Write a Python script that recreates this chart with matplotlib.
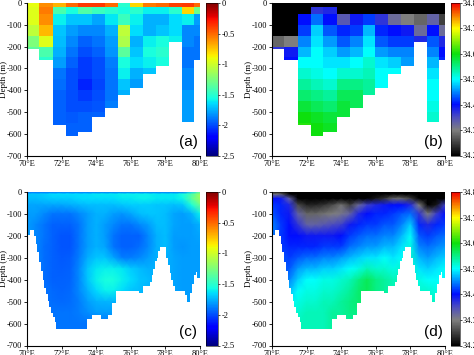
import numpy as np
import matplotlib
matplotlib.use('Agg')
import matplotlib.pyplot as plt
from matplotlib.colors import LinearSegmentedColormap, Normalize
from matplotlib.cm import ScalarMappable

plt.rcParams['axes.unicode_minus'] = False
SERIF = 'Liberation Serif'
SANS = 'Liberation Sans'

# ---------------- (a)/(b): station sections ----------------
stn_edges = [70.0, 70.72, 71.5, 72.23, 72.97, 73.73, 74.5, 75.27, 75.98, 76.7, 77.47, 78.22, 78.95, 79.67, 80.0]
stn_bottom = [210, 260, 560, 610, 590, 525, 480, 420, 390, 325, 290, 178, 545, 260]
layer_edges = [0, 20, 50, 100, 150, 200, 250, 300, 350, 400, 450, 500, 550, 600, 650]

temp_a = [
    [-0.92, -0.95, -0.95, -1.05, -1.25, -1.35],
    [-0.6, -0.55, -0.6, -0.72, -0.95, -1.4, -1.5],
    [-0.7, -1.4, -1.6, -1.7, -1.72, -1.75, -1.8, -1.9, -1.92, -1.95, -1.95, -1.95, -1.95],
    [-0.5, -1.55, -1.7, -1.8, -1.85, -1.9, -1.95, -2.0, -2.0, -2.0, -2.0, -1.97, -1.95, -1.95],
    [-0.38, -1.38, -1.7, -1.85, -1.95, -2.0, -2.05, -2.05, -2.1, -2.05, -2.0, -1.95, -1.95],
    [-0.38, -1.45, -1.78, -1.85, -1.9, -1.95, -2.0, -2.0, -2.02, -2.0, -1.98, -1.95],
    [-0.5, -1.5, -1.62, -1.75, -1.8, -1.82, -1.88, -1.9, -1.9, -1.9, -1.88],
    [-1.5, -1.55, -1.45, -1.05, -1.1, -1.35, -1.55, -1.6, -1.7, -1.75],
    [-0.8, -1.5, -1.6, -1.65, -1.75, -1.7, -1.65, -1.75, -1.8],
    [-0.55, -1.6, -1.75, -1.75, -1.6, -1.55, -1.6, -1.7],
    [-0.5, -1.6, -1.75, -1.7, -1.55, -1.5, -1.55],
    [-0.4, -1.5, -1.65, -1.65, -1.6],
    [-0.38, -0.8, -1.6, -1.85, -1.85, -1.9, -1.9, -1.85, -1.85, -1.8, -1.8, -1.8],
    [-0.5, -1.3, -1.8, -1.85, -1.9, -1.9, -1.9],
]

sal_b = [
    [34.15, 34.15, 34.15, 34.2, 34.28, 34.37],
    [34.15, 34.15, 34.15, 34.17, 34.3, 34.39, 34.4],
    [34.15, 34.15, 34.4, 34.42, 34.45, 34.47, 34.5, 34.52, 34.54, 34.56, 34.58, 34.6, 34.61],
    [34.15, 34.37, 34.44, 34.48, 34.49, 34.5, 34.5, 34.51, 34.53, 34.55, 34.57, 34.59, 34.6, 34.6],
    [34.15, 34.38, 34.4, 34.43, 34.46, 34.48, 34.49, 34.5, 34.52, 34.54, 34.56, 34.58, 34.59],
    [34.15, 34.15, 34.34, 34.41, 34.43, 34.46, 34.49, 34.52, 34.55, 34.57, 34.58, 34.58],
    [34.15, 34.2, 34.39, 34.42, 34.45, 34.47, 34.5, 34.52, 34.55, 34.57, 34.57],
    [34.15, 34.18, 34.42, 34.47, 34.49, 34.5, 34.52, 34.53, 34.54, 34.54],
    [34.15, 34.15, 34.37, 34.41, 34.43, 34.46, 34.49, 34.5, 34.5],
    [34.15, 34.15, 34.32, 34.4, 34.42, 34.45, 34.48, 34.5],
    [34.15, 34.15, 34.3, 34.39, 34.42, 34.45, 34.46],
    [34.15, 34.15, 34.28, 34.32, 34.38],
    [34.15, 34.15, 34.33, 34.4, 34.43, 34.45, 34.47, 34.49, 34.5, 34.5, 34.51, 34.52],
    [34.15, 34.15, 34.25, 34.32, 34.38, 34.4, 34.41],
]

# ---------------- (c)/(d): gridded sections ----------------
grid_lon = [70.0, 70.5, 71.0, 71.5, 72.0, 72.5, 73.0, 73.5, 74.0, 74.5, 75.0,
            75.5, 76.0, 76.5, 77.0, 77.5, 78.0, 78.5, 79.0, 79.5, 80.0]
grid_depth = [0, 10, 30, 60, 100, 150, 200, 250, 300, 350, 400, 450, 500, 550, 600, 700]

temp_c = [
    [-1.95]*19 + [-1.7, -1.4],
    [-1.7, -1.7, -1.68, -1.65, -1.65, -1.65, -1.65, -1.65, -1.62, -1.62, -1.62, -1.6, -1.6, -1.6, -1.6, -1.62, -1.62, -1.62, -1.55, -1.4, -1.15],
    [-1.72, -1.72, -1.7, -1.68, -1.68, -1.68, -1.66, -1.65, -1.65, -1.65, -1.65, -1.62, -1.62, -1.6, -1.6, -1.62, -1.62, -1.62, -1.58, -1.35, -1.15],
    [-1.78, -1.78, -1.78, -1.78, -1.78, -1.76, -1.74, -1.72, -1.72, -1.72, -1.72, -1.7, -1.68, -1.68, -1.68, -1.7, -1.7, -1.72, -1.7, -1.55, -1.3],
    [-1.8, -1.8, -1.85, -1.9, -1.9, -1.9, -1.85, -1.8, -1.75, -1.75, -1.8, -1.82, -1.78, -1.72, -1.7, -1.7, -1.72, -1.78, -1.8, -1.75, -1.6],
    [-1.8, -1.85, -1.9, -1.95, -1.95, -1.95, -1.9, -1.8, -1.75, -1.8, -1.85, -1.9, -1.9, -1.85, -1.8, -1.72, -1.72, -1.78, -1.8, -1.8, -1.75],
    [-1.8, -1.85, -1.9, -1.95, -1.98, -1.98, -1.9, -1.8, -1.75, -1.8, -1.9, -1.95, -1.95, -1.95, -1.85, -1.75, -1.72, -1.8, -1.8, -1.8, -1.78],
    [-1.8, -1.85, -1.92, -1.95, -1.98, -1.98, -1.9, -1.8, -1.75, -1.78, -1.9, -1.95, -1.95, -1.92, -1.85, -1.75, -1.72, -1.8, -1.82, -1.8, -1.8],
    [-1.8, -1.85, -1.92, -1.95, -1.97, -1.96, -1.88, -1.76, -1.7, -1.7, -1.78, -1.88, -1.88, -1.85, -1.8, -1.75, -1.75, -1.78, -1.8, -1.8, -1.8],
    [-1.8, -1.85, -1.92, -1.95, -1.96, -1.95, -1.85, -1.7, -1.62, -1.6, -1.6, -1.62, -1.68, -1.72, -1.75, -1.75, -1.75, -1.78, -1.8, -1.8, -1.8],
    [-1.8, -1.85, -1.92, -1.95, -1.95, -1.94, -1.85, -1.7, -1.6, -1.55, -1.55, -1.6, -1.65, -1.7, -1.72, -1.75, -1.75, -1.78, -1.8, -1.8, -1.8],
    [-1.8, -1.85, -1.9, -1.93, -1.94, -1.93, -1.85, -1.75, -1.66, -1.6, -1.6, -1.65, -1.7, -1.72, -1.75, -1.75, -1.75, -1.78, -1.8, -1.8, -1.8],
    [-1.85, -1.88, -1.9, -1.92, -1.93, -1.92, -1.88, -1.8, -1.75, -1.74, -1.74, -1.75, -1.75, -1.75, -1.75, -1.75, -1.75, -1.78, -1.8, -1.8, -1.8],
    [-1.88, -1.9, -1.9, -1.9, -1.9, -1.9, -1.88, -1.84, -1.8, -1.8, -1.8, -1.8, -1.8, -1.8, -1.8, -1.8, -1.8, -1.8, -1.8, -1.8, -1.8],
    [-1.9]*21,
    [-1.9]*21,
]

sal_d = [
    [34.15]*21,
    [34.3, 34.28, 34.2] + [34.15]*17 + [34.18],
    [34.4, 34.39, 34.33, 34.18, 34.17, 34.17, 34.17, 34.18, 34.2, 34.18, 34.2, 34.2, 34.22, 34.24, 34.28, 34.28, 34.25, 34.2, 34.17, 34.17, 34.2],
    [34.42, 34.41, 34.38, 34.26, 34.23, 34.23, 34.24, 34.26, 34.29, 34.25, 34.32, 34.36, 34.38, 34.39, 34.4, 34.4, 34.38, 34.3, 34.2, 34.22, 34.36],
    [34.43, 34.41, 34.39, 34.33, 34.28, 34.28, 34.29, 34.3, 34.31, 34.33, 34.38, 34.4, 34.41, 34.41, 34.42, 34.43, 34.44, 34.37, 34.3, 34.36, 34.4],
    [34.45, 34.42, 34.4, 34.37, 34.33, 34.33, 34.34, 34.35, 34.36, 34.39, 34.41, 34.42, 34.42, 34.43, 34.43, 34.45, 34.48, 34.41, 34.38, 34.41, 34.42],
    [34.45, 34.42, 34.4, 34.4, 34.39, 34.39, 34.39, 34.39, 34.4, 34.42, 34.43, 34.44, 34.44, 34.45, 34.45, 34.47, 34.5, 34.43, 34.42, 34.43, 34.44],
    [34.45, 34.42, 34.41, 34.41, 34.41, 34.41, 34.42, 34.42, 34.42, 34.44, 34.45, 34.46, 34.46, 34.47, 34.47, 34.49, 34.51, 34.45, 34.44, 34.45, 34.46],
    [34.45, 34.43, 34.42, 34.43, 34.44, 34.44, 34.45, 34.45, 34.46, 34.47, 34.48, 34.49, 34.49, 34.5, 34.49, 34.5, 34.52, 34.47, 34.46, 34.47, 34.48],
    [34.45, 34.43, 34.43, 34.46, 34.47, 34.47, 34.48, 34.48, 34.49, 34.5, 34.51, 34.53, 34.52, 34.52, 34.51, 34.52, 34.52, 34.49, 34.48, 34.49, 34.5],
    [34.45, 34.44, 34.45, 34.48, 34.5, 34.5, 34.51, 34.51, 34.52, 34.53, 34.55, 34.57, 34.55, 34.54, 34.53, 34.53, 34.53, 34.51, 34.5, 34.5, 34.5],
    [34.45, 34.45, 34.47, 34.5, 34.51, 34.51, 34.52, 34.52, 34.53, 34.54, 34.56, 34.57, 34.55, 34.54, 34.53, 34.53, 34.53, 34.52, 34.52, 34.51, 34.5],
    [34.46, 34.47, 34.5, 34.51, 34.52, 34.52, 34.53, 34.53, 34.54, 34.55, 34.56, 34.56, 34.55, 34.54, 34.53, 34.53, 34.53, 34.53, 34.53, 34.52, 34.51],
    [34.48, 34.5, 34.51, 34.52, 34.53, 34.53, 34.53, 34.54, 34.54, 34.55, 34.55, 34.55, 34.55, 34.54, 34.53, 34.53, 34.53, 34.53, 34.53, 34.52, 34.52],
    [34.5, 34.51, 34.52, 34.53, 34.53, 34.53, 34.53, 34.54, 34.54, 34.54, 34.54, 34.54, 34.54, 34.54, 34.53, 34.53, 34.53, 34.53, 34.53, 34.52, 34.52],
    [34.5, 34.51, 34.52, 34.53, 34.53, 34.53, 34.53, 34.54, 34.54, 34.54, 34.54, 34.54, 34.54, 34.54, 34.53, 34.53, 34.53, 34.53, 34.53, 34.52, 34.52],
]

# sea floor (step function: segment start longitude, depth)
floor_lon = [70.0, 70.2, 70.4, 70.5, 70.6, 70.7, 70.8, 70.9, 71.0, 71.1, 71.2, 71.3, 71.4, 71.5, 71.6, 71.7,
             73.45, 73.75, 74.3, 74.7, 74.9, 75.15, 76.5, 76.7, 77.1, 77.2, 77.3, 77.4, 77.5, 77.6, 77.7,
             78.05, 78.15, 78.25, 78.35, 78.45, 78.55, 79.15, 79.25, 79.45, 79.55, 79.65, 79.75, 79.85]
floor_depth = [195, 175, 200, 235, 275, 320, 360, 400, 440, 465, 495, 525, 550, 570, 595, 625,
               580, 560, 580, 560, 505, 450, 460, 430, 410, 380, 350, 315, 300, 270, 250,
               300, 335, 370, 400, 430, 450, 470, 500, 460, 420, 380, 365, 390]

xticks = [70, 72, 74, 76, 78, 80]
xticklabels = ['70°E', '72°E', '74°E', '76°E', '78°E', '80°E']
yticks = [0, -100, -200, -300, -400, -500, -600, -700]
temp_ticks = [0, -0.5, -1, -1.5, -2, -2.5]
temp_ticklabels = ['0', '-0.5', '-1', '-1.5', '-2', '-2.5']
sal_ticks = [34.8, 34.7, 34.6, 34.5, 34.4, 34.3, 34.2]
sal_ticklabels = ['34.8', '34.7', '34.6', '34.5', '34.4', '34.3', '34.2']

# ---------------- styling ----------------
temp_cmap = plt.get_cmap('jet')
temp_norm = Normalize(-2.5, 0)
sal_cmap = LinearSegmentedColormap.from_list('sal', [
    (0.0, (0, 0, 0)), (1/6, (0.5, 0.5, 0.5)), (0.25, (0.3, 0.3, 0.75)),
    (1/3, (0.0, 0.05, 1.0)), (0.5, (0.0, 1.0, 1.0)), (2/3, (0.05, 0.88, 0.05)),
    (5/6, (1.0, 1.0, 0.0)), (1.0, (0.95, 0.0, 0.0))])
sal_norm = Normalize(34.2, 34.8)

W, H = 474, 355
fig = plt.figure(figsize=(W/100, H/100), dpi=100)

def fr(x0, y0, x1, y1):
    return [x0/W, 1 - y1/H, (x1-x0)/W, (y1-y0)/H]

ax_a = fig.add_axes(fr(27, 3, 200, 155.5))
ax_b = fig.add_axes(fr(272, 3, 445, 155.5))
ax_c = fig.add_axes(fr(27, 192, 200, 345.5))
ax_d = fig.add_axes(fr(272, 192, 445, 345.5))
cax_a = fig.add_axes(fr(206, 3, 218, 155.5))
cax_b = fig.add_axes(fr(450.5, 3, 459.5, 155.5))
cax_c = fig.add_axes(fr(206, 192, 218, 345.5))
cax_d = fig.add_axes(fr(450.5, 192, 459.5, 345.5))

def draw_stations(ax, data, cmap, norm):
    for j, vals in enumerate(data):
        bot = stn_bottom[j]
        ed = [d for d in layer_edges if d < bot] + [bot]
        y = -np.array(ed, dtype=float)
        c = np.array(vals[:len(ed)-1], dtype=float)[:, None]
        ax.pcolormesh([stn_edges[j], stn_edges[j+1]], y, c, cmap=cmap, norm=norm,
                      shading='flat', antialiased=False, linewidth=0, zorder=1)

def draw_grid(ax, data, cmap, norm):
    X, Y = np.meshgrid(grid_lon, -np.array(grid_depth, dtype=float))
    ax.pcolormesh(X, Y, np.array(data), cmap=cmap, norm=norm, shading='gouraud', zorder=1)
    fx = list(floor_lon) + [80.0]
    fy = [-d for d in floor_depth] + [-floor_depth[-1]]
    ax.fill_between(fx, fy, -700, step='post', color='white', linewidth=0, zorder=1.5)

draw_stations(ax_a, temp_a, temp_cmap, temp_norm)
draw_stations(ax_b, sal_b, sal_cmap, sal_norm)
draw_grid(ax_c, temp_c, temp_cmap, temp_norm)
draw_grid(ax_d, sal_d, sal_cmap, sal_norm)

for ax, lab in zip([ax_a, ax_b, ax_c, ax_d], ['(a)', '(b)', '(c)', '(d)']):
    ax.set_xlim(70, 80)
    ax.set_ylim(-700, 0)
    ax.set_xticks(xticks)
    ax.set_xticklabels(xticklabels, fontsize=6, family=SERIF)
    ax.set_yticks(yticks)
    ax.set_yticklabels([str(v) for v in yticks], fontsize=6, family=SERIF)
    ax.tick_params(direction='out', length=2, width=0.6, pad=1.5)
    for s in ['top', 'right']:
        ax.spines[s].set_visible(False)
    for s in ['left', 'bottom']:
        ax.spines[s].set_linewidth(0.8)
    ax.set_ylabel('Depth (m)', fontsize=6.5, family=SERIF)
    ax.yaxis.set_label_coords(-0.112, 0.5)
    ax.text(0.985, 0.04, lab, transform=ax.transAxes, ha='right', va='bottom',
            fontsize=11, family=SANS, zorder=5)

for cax, cmap, norm, ticks, labels in [
        (cax_a, temp_cmap, temp_norm, temp_ticks, temp_ticklabels),
        (cax_c, temp_cmap, temp_norm, temp_ticks, temp_ticklabels),
        (cax_b, sal_cmap, sal_norm, sal_ticks, sal_ticklabels),
        (cax_d, sal_cmap, sal_norm, sal_ticks, sal_ticklabels)]:
    cb = fig.colorbar(ScalarMappable(norm=norm, cmap=cmap), cax=cax)
    cb.set_ticks(ticks)
    cb.set_ticklabels(labels)
    cb.outline.set_linewidth(0.4)
    cax.tick_params(length=1.5, width=0.5, labelsize=6, pad=1)
    for t in cax.get_yticklabels():
        t.set_family(SERIF)

fig.savefig('out.png', dpi=100)
